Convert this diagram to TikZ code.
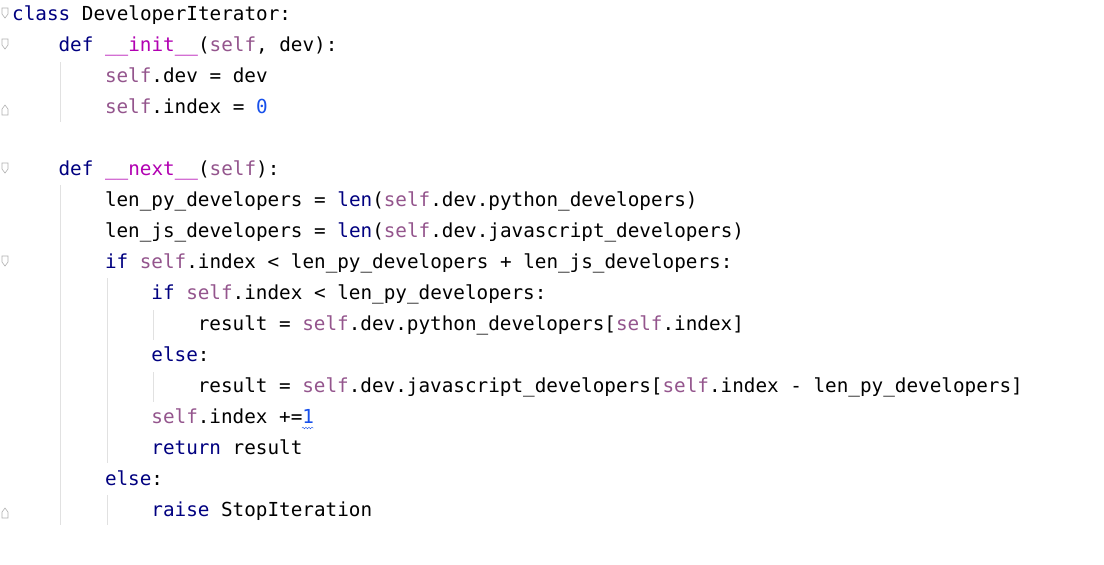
\documentclass[tikz,border=0pt]{standalone}
\usetikzlibrary{decorations.pathmorphing}
\usepackage{fontspec}
\setmonofont{DejaVu Sans Mono}
\definecolor{kwc}{RGB}{0,0,128}
\definecolor{slfc}{RGB}{148,85,141}
\definecolor{magc}{RGB}{178,0,178}
\definecolor{numc}{RGB}{23,80,235}
\definecolor{guide}{RGB}{225,225,225}
\newcommand{\kw}[1]{\textcolor{kwc}{#1}}
\newcommand{\slf}{\textcolor{slfc}{self}}
\newcommand{\mg}[1]{\textcolor{magc}{#1}}
\newcommand{\nm}[1]{\textcolor{numc}{#1}}
\begin{document}
\begin{tikzpicture}[x=1pt,y=-1pt,
  codeline/.style={anchor=base west,inner sep=0pt,font=\fontsize{19.3}{20}\ttfamily},
  guideline/.style={draw=guide,line width=1pt},
  fold/.style={draw=gray!60,line width=0.6pt}]
\useasboundingbox[fill=white] (0,0) rectangle (1104,565);
\def\cw{11.6}
\def\L#1#2#3{\node[codeline] (l#1) at ({12+#2*\cw},{20+(#1-1)*31}) {\strut #3};}
\draw[guideline] (60,62) -- (60,122);
\draw[guideline] (60,185) -- (60,525);
\draw[guideline] (107,278) -- (107,463);
\draw[guideline] (107,495) -- (107,525);
\draw[guideline] (153,310) -- (153,340);
\draw[guideline] (153,372) -- (153,402);
\foreach \y in {14,45,169,262} {\draw[fold] (2,\y-6) -- (8,\y-6) -- (8,\y) -- (5,\y+4) -- (2,\y) -- cycle;}
\foreach \y in {107,510} {\draw[fold] (2,\y+8) -- (8,\y+8) -- (8,\y+2) -- (5,\y-2) -- (2,\y+2) -- cycle;}
\L{1}{0}{\kw{class} DeveloperIterator:}
\L{2}{4}{\kw{def} \mg{\_\_init\_\_}(\slf, dev):}
\L{3}{8}{\slf.dev = dev}
\L{4}{8}{\slf.index = \nm{0}}
\L{6}{4}{\kw{def} \mg{\_\_next\_\_}(\slf):}
\L{7}{8}{len\_py\_developers = \kw{len}(\slf.dev.python\_developers)}
\L{8}{8}{len\_js\_developers = \kw{len}(\slf.dev.javascript\_developers)}
\L{9}{8}{\kw{if} \slf.index < len\_py\_developers + len\_js\_developers:}
\L{10}{12}{\kw{if} \slf.index < len\_py\_developers:}
\L{11}{16}{result = \slf.dev.python\_developers[\slf.index]}
\L{12}{12}{\kw{else}:}
\L{13}{16}{result = \slf.dev.javascript\_developers[\slf.index - len\_py\_developers]}
\L{14}{12}{\slf.index +=\nm{1}}
\L{15}{12}{\kw{return} result}
\L{16}{8}{\kw{else}:}
\L{17}{12}{\kw{raise} StopIteration}
\draw[numc,decorate,decoration={snake,amplitude=0.8pt,segment length=3pt}] ({12+25*\cw},{20+13*31+5}) -- ({12+26*\cw},{20+13*31+5});
\end{tikzpicture}
\end{document}
